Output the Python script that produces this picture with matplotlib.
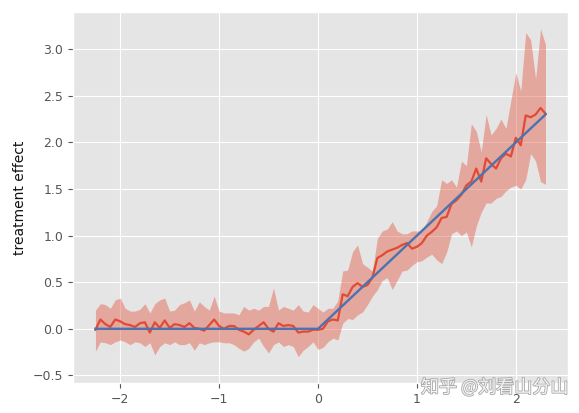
import numpy as np
import matplotlib
matplotlib.use('Agg')
import matplotlib.pyplot as plt
import matplotlib.patheffects as pe

plt.style.use('ggplot')

# grid of the covariate (step 0.05 from -2.25 to 2.30)
x_start, x_stop, x_step = -2.25, 2.30, 0.05
x = np.round(np.arange(x_start, x_stop + x_step / 2, x_step), 2)

# estimated treatment effect (red line)
te_pred = [-0.01, 0.10, 0.05, 0.02, 0.10, 0.08, 0.05, 0.04, 0.02, 0.06, 0.07, -0.04,
           0.07, 0.01, 0.09, 0.01, 0.05, 0.04, 0.02, 0.06, 0.01, 0.00, -0.02, 0.04,
           0.10, 0.03, 0.00, 0.03, 0.03, -0.01, -0.03, -0.06, -0.01, 0.03, 0.07, 0.00,
           -0.03, 0.06, 0.03, 0.04, 0.03, -0.04, -0.03, -0.03, -0.01,
           -0.01, 0.00, 0.08, 0.10, 0.09, 0.37, 0.35, 0.45, 0.49, 0.45, 0.47, 0.55,
           0.76, 0.79, 0.83, 0.85, 0.87, 0.90, 0.92, 0.86,
           0.88, 0.92, 1.00, 1.04, 1.09, 1.19, 1.20, 1.34, 1.38, 1.44, 1.54, 1.58,
           1.72, 1.58, 1.83, 1.77, 1.72, 1.83, 1.88, 1.85, 2.05, 1.97, 2.29, 2.27,
           2.30, 2.37, 2.31]

# interval bounds (shaded band)
te_upper = [0.20, 0.27, 0.26, 0.22, 0.31, 0.33, 0.22, 0.19, 0.19, 0.21, 0.27, 0.17,
            0.27, 0.31, 0.33, 0.19, 0.20, 0.26, 0.28, 0.31, 0.19, 0.29, 0.24, 0.20,
            0.35, 0.19, 0.17, 0.17, 0.17, 0.15, 0.24, 0.20, 0.22, 0.20, 0.24, 0.24,
            0.44, 0.20, 0.24, 0.22, 0.20, 0.26, 0.19, 0.18, 0.26,
            0.22, 0.18, 0.22, 0.22, 0.30, 0.62, 0.63, 0.83, 0.90, 0.70, 0.66, 0.62,
            0.97, 1.05, 1.07, 1.15, 1.05, 1.02, 1.02, 1.05,
            1.05, 1.05, 1.15, 1.26, 1.32, 1.60, 1.56, 1.60, 1.52, 1.80, 1.75, 2.20,
            2.12, 1.90, 2.30, 2.08, 2.15, 2.25, 2.15, 2.45, 2.75, 2.55, 3.18, 3.10,
            2.68, 3.22, 3.05]

te_lower = [-0.24, -0.14, -0.15, -0.17, -0.14, -0.12, -0.14, -0.17, -0.14, -0.15, -0.19, -0.15,
            -0.28, -0.19, -0.15, -0.17, -0.14, -0.17, -0.17, -0.15, -0.23, -0.15, -0.17, -0.15,
            -0.14, -0.14, -0.15, -0.15, -0.17, -0.21, -0.24, -0.21, -0.14, -0.10, -0.19, -0.26,
            -0.17, -0.14, -0.19, -0.17, -0.19, -0.30, -0.23, -0.19, -0.14,
            -0.22, -0.20, -0.14, -0.10, -0.12, 0.06, 0.11, 0.10, 0.15, 0.18, 0.26, 0.35,
            0.42, 0.52, 0.55, 0.42, 0.52, 0.62, 0.63, 0.68,
            0.72, 0.73, 0.77, 0.80, 0.74, 0.70, 0.82, 1.02, 1.05, 1.00, 1.04, 0.88,
            1.10, 1.25, 1.35, 1.35, 1.40, 1.42, 1.48, 1.52, 1.54, 1.50, 1.60, 1.88,
            1.80, 1.58, 1.55]

# true effect (blue line), read at its break points
true_x = [-2.25, 0.0, 2.30]
true_y = [0.0, 0.0, 2.30]

fig = plt.figure(figsize=(5.79, 4.13), dpi=100)
ax = fig.add_axes([0.126, 0.073, 0.855, 0.898])

ax.fill_between(x, te_lower, te_upper, color='#E24A33', alpha=0.4, linewidth=0)
ax.plot(x, te_pred, color='#E24A33', linewidth=1.6)
ax.plot(true_x, true_y, color='#4C72B0', linewidth=1.7)

ax.set_xlim(-2.4775, 2.5275)
ax.set_ylim(-0.58, 3.40)
ax.set_yticks([-0.5, 0.0, 0.5, 1.0, 1.5, 2.0, 2.5, 3.0])
ax.tick_params(labelsize=9, colors='#555555')
ax.set_ylabel('treatment effect', fontsize=10, color='#111111')

# watermark
fig.text(0.727, 0.062, '知乎 @刘看山分山', fontsize=13, color='#f4f4f4',
         family=['Noto Sans CJK SC', 'DejaVu Sans'], va='center', ha='left',
         path_effects=[pe.withStroke(linewidth=1.2, foreground='#a8a8a8')])

fig.savefig('out.png', dpi=100)
